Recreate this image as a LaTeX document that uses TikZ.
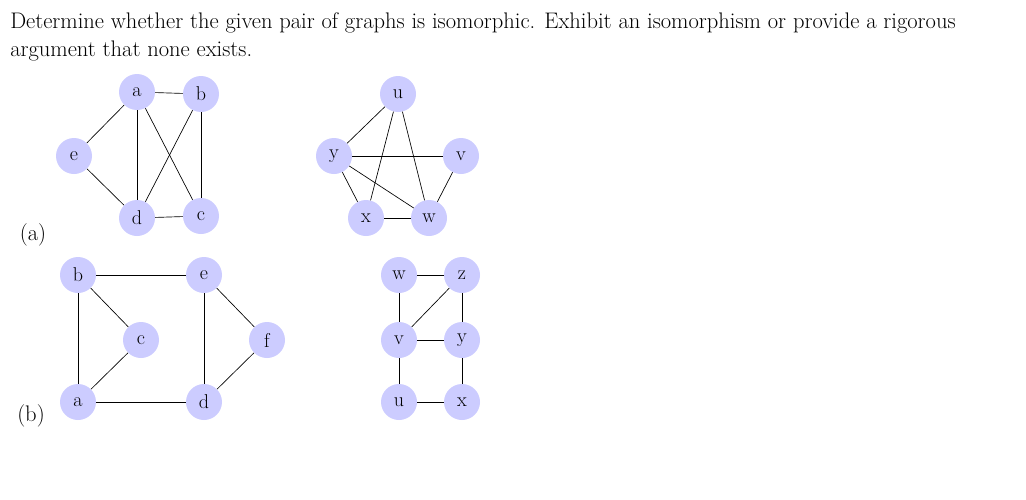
\documentclass[tikz,border=0pt]{standalone}
\begin{document}
\begin{tikzpicture}[x=0.75pt,y=-0.75pt,
 vx/.style={circle,fill={rgb,255:red,204;green,204;blue,255},inner sep=2.5pt,minimum size=27pt,font=\fontsize{15}{17}\selectfont},
 ed/.style={draw,line width=0.5pt}]
\useasboundingbox (0,0) rectangle (1026,500);
\node[anchor=north west,inner sep=0,align=left,font=\fontsize{16.9}{21}\selectfont] (t) at (10,12) {Determine whether the given pair of graphs is isomorphic. Exhibit an isomorphism or provide a rigorous\\argument that none exists.};
\begin{scope}[every node/.style={vx}]
\node (a) at (137,92) {a}; \node (b) at (201,94) {b}; \node (e) at (74,156) {e};
\node (d) at (137,218) {d}; \node (c) at (201,216) {c};
\node (u) at (398,94) {u}; \node (y) at (334,156) {y}; \node (v) at (461,156) {v};
\node (x) at (366,218) {x}; \node (w) at (429,218) {w};
\node (B) at (78,275) {b}; \node (E) at (204,275) {e}; \node (C) at (141,340) {c};
\node (F) at (267,340) {f}; \node (A) at (78,402) {a}; \node (D) at (204,402) {d};
\node (W) at (399,275) {w}; \node (Z) at (462,275) {z}; \node (V) at (399,340) {v};
\node (Y) at (462,340) {y}; \node (U) at (399,402) {u}; \node (X) at (462,402) {x};
\end{scope}
\node[font=\fontsize{16.9}{19}\selectfont] (la) at (33,235) {(a)};
\node[font=\fontsize{16.9}{19}\selectfont] (lb) at (31,416) {(b)};
\foreach \p/\q in {a/b,a/e,a/d,a/c,b/d,b/c,e/d,d/c,u/y,u/x,u/w,y/v,y/x,y/w,v/w,x/w,
 B/E,B/C,B/A,C/A,E/F,E/D,F/D,A/D,W/Z,W/V,Z/V,Z/Y,V/Y,V/U,Y/X,U/X}
 \draw[ed] (\p) -- (\q);
\end{tikzpicture}
\end{document}
